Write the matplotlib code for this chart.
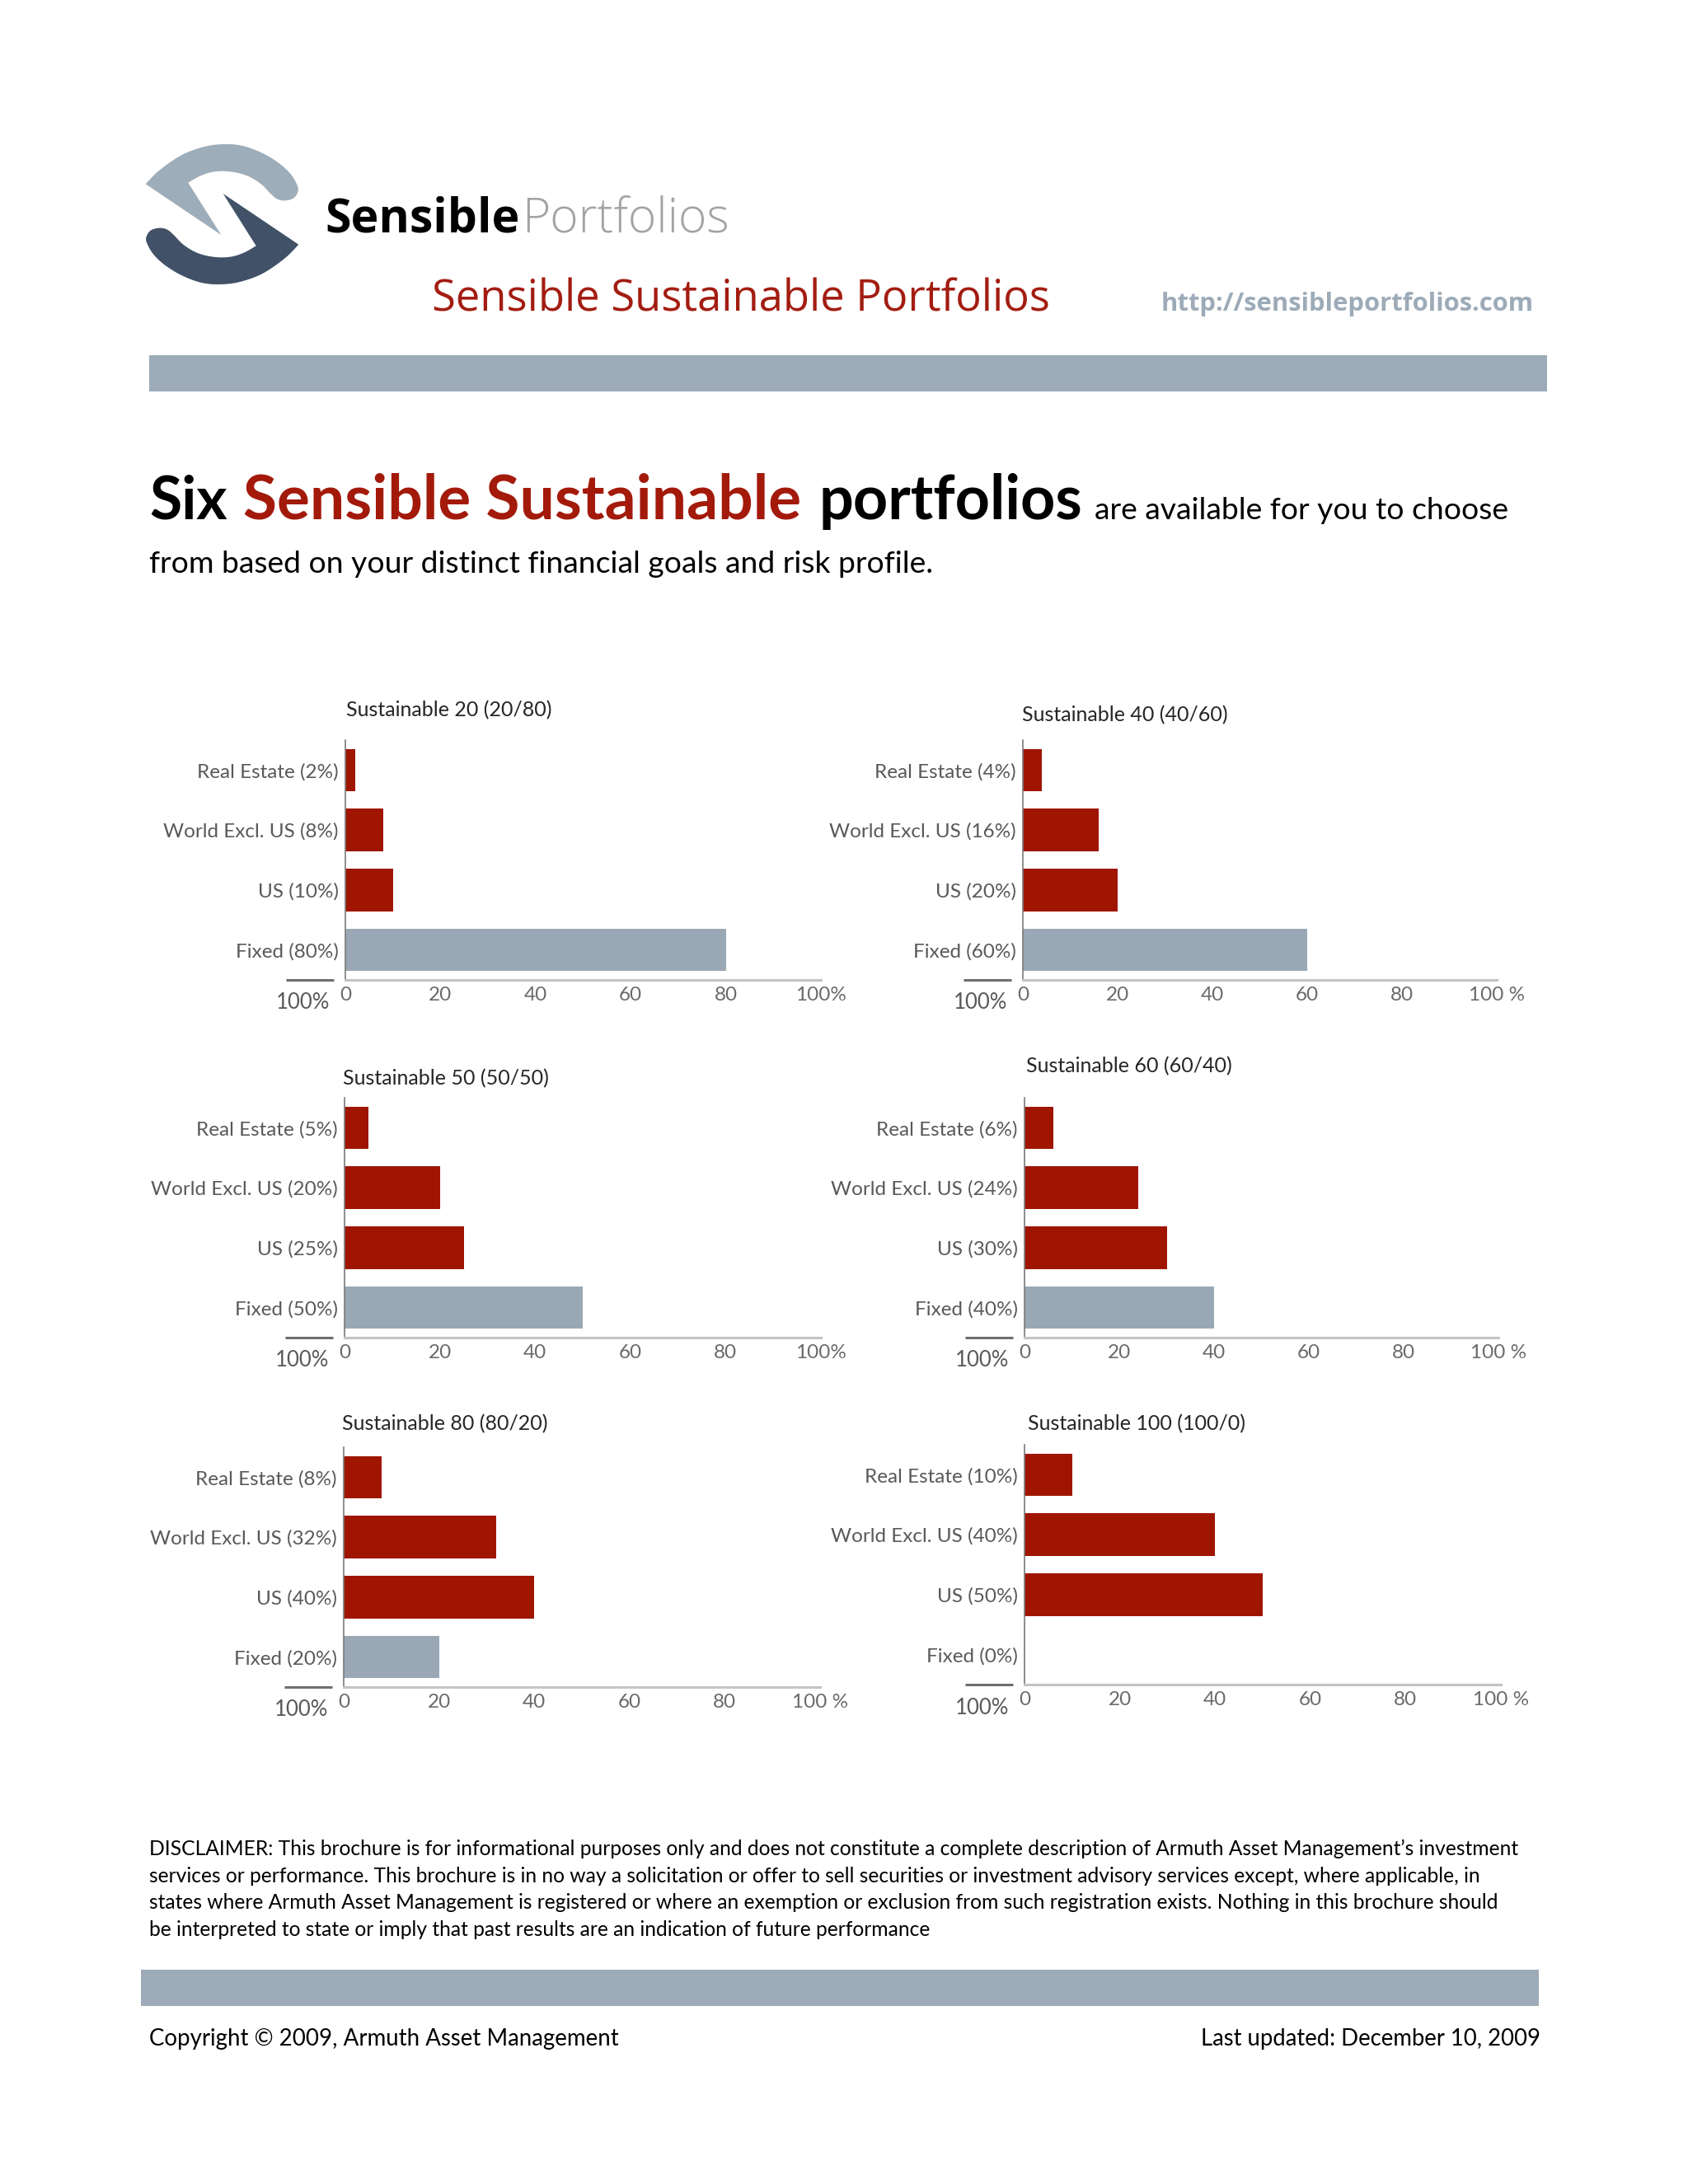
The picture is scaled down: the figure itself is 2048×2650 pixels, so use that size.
import numpy as np
import matplotlib
matplotlib.use("Agg")
import matplotlib.pyplot as plt
from matplotlib.patches import Polygon, Rectangle

# ---------------- data ----------------
titles = ["Sustainable 20 (20/80)", "Sustainable 40 (40/60)",
          "Sustainable 50 (50/50)", "Sustainable 60 (60/40)",
          "Sustainable 80 (80/20)", "Sustainable 100 (100/0)"]
categories = ["Real Estate", "World Excl. US", "US", "Fixed"]
s20 = [2, 8, 10, 80]
s40 = [4, 16, 20, 60]
s50 = [5, 20, 25, 50]
s60 = [6, 24, 30, 40]
s80 = [8, 32, 40, 20]
s100 = [10, 40, 50, 0]
portfolio_values = [s20, s40, s50, s60, s80, s100]
x_ticks = [0, 20, 40, 60, 80, 100]
x_tick_labels_a = ["0", "20", "40", "60", "80", "100%"]
x_tick_labels_b = ["0", "20", "40", "60", "80", "100 %"]
panel_tick_labels = [x_tick_labels_a, x_tick_labels_b, x_tick_labels_a,
                     x_tick_labels_b, x_tick_labels_b, x_tick_labels_b]

disclaimer_lines = [
    "DISCLAIMER: This brochure is for informational purposes only and does not constitute a complete description of Armuth Asset Management\u2019s investment",
    "services or performance. This brochure is in no way a solicitation or offer to sell securities or investment advisory services except, where applicable, in",
    "states where Armuth Asset Management is registered or where an exemption or exclusion from such registration exists. Nothing in this brochure should",
    "be interpreted to state or imply that past results are an indication of future performance",
]

# ---------------- style ----------------
RED = "#A01500"
GREY_BAR = "#9AA8B5"
BAND = "#9DABB8"
LOGO_LIGHT = "#9DADBA"
LOGO_DARK = "#415168"
FONT = "Lato"
CHART_FS = 17.5

W, H = 2048, 2650
fig = plt.figure(figsize=(W / 100, H / 100), dpi=100)
fig.patch.set_facecolor("white")
bg = fig.add_axes([0, 0, 1, 1])
bg.set_xlim(0, W)
bg.set_ylim(H, 0)
bg.axis("off")
renderer = fig.canvas.get_renderer()


def fit_text(x, y, s, width, ha="left", **kw):
    t = bg.text(x, y, s, fontsize=20, ha=ha, va="baseline", **kw)
    w = t.get_window_extent(renderer).width
    t.set_fontsize(20 * width / w)
    return t


# ---------------- logo ----------------
def catmull(pts, n=8):
    pts = np.asarray(pts, float)
    P = np.vstack([pts[0], pts, pts[-1]])
    out = []
    for i in range(1, len(P) - 2):
        p0, p1, p2, p3 = P[i - 1], P[i], P[i + 1], P[i + 2]
        for t in np.linspace(0, 1, n, endpoint=False):
            t2, t3 = t * t, t * t * t
            out.append(0.5 * ((2 * p1) + (-p0 + p2) * t +
                              (2 * p0 - 5 * p1 + 4 * p2 - p3) * t2 +
                              (-p0 + 3 * p1 - 3 * p2 + p3) * t3))
    out.append(pts[-1])
    return np.array(out)


outer = [(176.7, 223.3), (193.3, 206.7), (220, 188.3), (246.7, 178.3), (270, 175),
         (293.3, 176.7), (316.7, 185), (336.7, 196.7), (351.7, 210), (360, 223.3),
         (361.7, 231.7), (356.7, 240), (346.7, 243.3), (336.7, 241.7), (328.3, 235),
         (316.7, 223.3), (300, 213.3), (280, 208.3), (260, 208.3), (243.3, 213.3),
         (228.3, 221.7)]
light = np.vstack([catmull(outer), [(268.3, 285)]])
C = np.array([269.5, 260.0])
dark = 2 * C - light
bg.add_patch(Polygon(light, closed=True, facecolor=LOGO_LIGHT, edgecolor="none"))
bg.add_patch(Polygon(dark, closed=True, facecolor=LOGO_DARK, edgecolor="none"))

fit_text(394, 282, "Sensible", 236, color="black", family="Open Sans", fontweight="bold")
fit_text(633, 282, "Portfolios", 252, color="#A3A3A6", family="Open Sans", fontweight="light")

fit_text(524, 377, "Sensible Sustainable Portfolios", 749, color="#A31D11", family="Open Sans")
fit_text(1409, 377, "http://sensibleportfolios.com", 453, color="#9DABB8",
         family="Open Sans", fontweight="bold")

bg.add_patch(Rectangle((181, 431), 1696, 44, facecolor=BAND, edgecolor="none"))

# ---------------- heading ----------------
fit_text(181, 630, "Six", 95, color="black", family=FONT, fontweight="bold")
fit_text(295, 630, "Sensible Sustainable", 678, color="#A31A0B", family=FONT, fontweight="bold")
fit_text(994, 630, "portfolios", 320, color="black", family=FONT, fontweight="bold")
fit_text(1328, 630, "are available for you to choose", 501, color="black", family=FONT)
fit_text(181, 695, "from based on your distinct financial goals and risk profile.", 952,
         color="black", family=FONT)

# ---------------- charts ----------------
# (axis-left px, axis-right px, axis-bottom px, title x px, title y px)
panels = [(419, 996, 1189, 420, 862),
          (1241, 1816, 1189, 1240, 868),
          (418, 996, 1623, 416, 1309),
          (1243, 1818, 1623, 1245, 1294),
          (417, 995, 2047, 415, 1728),
          (1243, 1821, 2044, 1247, 1728)]
ax_h = 291

for i, (xl, xr, yb, tx, ty) in enumerate(panels):
    ax = fig.add_axes([xl / W, 1 - yb / H, (xr - xl) / W, ax_h / H])
    vals = portfolio_values[i]
    labels = [f"{c} ({v}%)" for c, v in zip(categories, vals)]
    colors = [RED, RED, RED, GREY_BAR]
    ypos = np.arange(len(categories))
    ax.barh(ypos, vals, height=0.71, color=colors, edgecolor="none")
    ax.set_xlim(0, 100)
    ax.set_ylim(3.5, -0.5)
    ax.set_yticks(ypos)
    ax.set_yticklabels(labels, fontsize=CHART_FS, color="#595959", family=FONT)
    ax.set_xticks(x_ticks)
    ax.set_xticklabels(panel_tick_labels[i], fontsize=CHART_FS, color="#6A6A6A", family=FONT)
    ax.tick_params(axis="both", length=0)
    ax.tick_params(axis="y", pad=6)
    ax.tick_params(axis="x", pad=6)
    for sp in ["top", "right"]:
        ax.spines[sp].set_visible(False)
    ax.spines["left"].set_color("#7A7A7A")
    ax.spines["left"].set_linewidth(1.2)
    ax.spines["bottom"].set_color("#C4C4C4")
    ax.spines["bottom"].set_linewidth(2.2)
    ax.patch.set_alpha(0)
    bg.text(tx, ty, titles[i], fontsize=CHART_FS + 0.5, color="#262626", family=FONT,
            ha="left", va="center")
    bg.plot([xl - 72, xl - 14], [yb, yb], color="#6E6E6E", lw=2.2, solid_capstyle="butt")
    bg.text(xl - 19, yb + 28, "100%", fontsize=18.5, color="#595959", family=FONT,
            ha="right", va="center")

# ---------------- disclaimer & footer ----------------
t = bg.text(181, 2251, disclaimer_lines[0], fontsize=20, family=FONT, color="black",
            ha="left", va="baseline")
w = t.get_window_extent(renderer).width
fs = 20 * 1672 / w
t.set_fontsize(fs)
for k, line in enumerate(disclaimer_lines[1:], start=1):
    bg.text(181, 2251 + 32.7 * k, line, fontsize=fs, family=FONT, color="black",
            ha="left", va="baseline")

bg.add_patch(Rectangle((171, 2390), 1696, 44, facecolor=BAND, edgecolor="none"))
fit_text(181, 2482, "Copyright \u00a9 2009, Armuth Asset Management", 570, color="black", family=FONT)
fit_text(1869, 2482, "Last updated: December 10, 2009", 413, ha="right", color="black", family=FONT)

fig.savefig("out.png", dpi=100, facecolor="white")
